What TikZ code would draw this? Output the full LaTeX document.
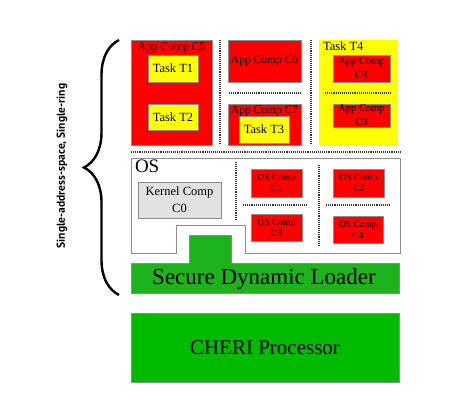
\documentclass[tikz,border=0pt]{standalone}
\usepackage{fontspec}
\setmainfont{Liberation Serif}
\newfontfamily\bracefont{PT Sans}
\usetikzlibrary{decorations.pathreplacing}
\definecolor{compRed}{HTML}{FF0000}
\definecolor{taskYellow}{HTML}{FFFF00}
\definecolor{cpuGreen}{HTML}{00BB00}
\definecolor{loaderGreen}{HTML}{1DB31D}
\definecolor{kernelGray}{HTML}{E2E2E2}
\definecolor{boxLine}{HTML}{8C8C8C}
\definecolor{sepLine}{HTML}{333333}
\tikzset{
  cherifig/.style={
    x=1pt, y=-1pt,
    every node/.append style={inner sep=0pt, outer sep=0pt},
  },
  block/.style={
    draw=boxLine, line width=0.6pt, anchor=north west, align=center,
  },
  appbox/.style={block, fill=compRed, font=\fontsize{11.5}{14}\selectfont},
  taskbox/.style={block, fill=taskYellow, font=\fontsize{12.5}{14}\selectfont},
  osbox/.style={block, fill=compRed, font=\fontsize{9.5}{11}\selectfont},
  kernelbox/.style={block, fill=kernelGray, font=\fontsize{12.5}{17}\selectfont},
  toplabel/.style={anchor=north, font=\fontsize{11.5}{14}\selectfont},
  % gepunktete Trennlinien zwischen den Komponenten
  sep/.style={draw=sepLine, line width=1.1pt, densely dotted},
  brace/.style={draw=black, line width=2.4pt,
    decorate, decoration={brace, amplitude=35pt}},
}
\begin{document}
\begin{tikzpicture}[cherifig]
  \useasboundingbox (0,0) rectangle (474,417);
  % Anwendungsebene
  \node[appbox, minimum width=81, minimum height=105] (CompC5) at (131,40) {};
  \node[toplabel] (CompC5Label) at ([yshift=-3pt]CompC5.north) {App Comp C5};
  \node[taskbox, minimum width=50, minimum height=27] (TaskT1) at (148,55) {Task T1};
  \node[taskbox, minimum width=50, minimum height=26] (TaskT2) at (148,104) {Task T2};
  \node[appbox, minimum width=73, minimum height=42] (CompC6) at (228,40) {App Comp C6};
  \node[appbox, minimum width=73, minimum height=41] (CompC7) at (228,104) {};
  \node[toplabel] (CompC7Label) at ([yshift=-1.5pt]CompC7.north) {App Comp C7};
  \node[taskbox, minimum width=50, minimum height=27] (TaskT3) at (239,116) {Task T3};
  \node[block, draw=none, fill=taskYellow, minimum width=79, minimum height=105] (TaskT4) at (319,40) {};
  \node[anchor=north west, font=\fontsize{12.5}{14}\selectfont] (TaskT4Label) at (323,42) {Task T4};
  \node[appbox, font=\fontsize{10.5}{14}\selectfont, minimum width=57, minimum height=27] (CompC8) at (333,55) {App Comp\\C8};
  \node[appbox, font=\fontsize{10.5}{14}\selectfont, minimum width=57, minimum height=23] (CompC9) at (333,104) {App Comp\\C9};
  \coordinate (AppSepA1) at (220,40);  \coordinate (AppSepA2) at (220,145);
  \coordinate (AppSepB1) at (311,40);  \coordinate (AppSepB2) at (311,145);
  \coordinate (AppSepC1) at (229,93);  \coordinate (AppSepC2) at (301,93);
  \coordinate (AppSepD1) at (325,93);  \coordinate (AppSepD2) at (391,93);
  \coordinate (LayerSep1) at (131,152); \coordinate (LayerSep2) at (400,152);
  \draw[sep] (AppSepA1) -- (AppSepA2);
  \draw[sep] (AppSepB1) -- (AppSepB2);
  \draw[sep] (AppSepC1) -- (AppSepC2);
  \draw[sep] (AppSepD1) -- (AppSepD2);
  \draw[sep] (LayerSep1) -- (LayerSep2);
  % Betriebssystem
  \draw[draw=boxLine, line width=0.9pt, fill=white]
    (131,158) -- (400,158) -- (400,253) -- (245,253) -- (245,225)
    -- (176,225) -- (176,253) -- (131,253) -- cycle;
  \node[anchor=base west, font=\fontsize{19}{22}\selectfont] (OSLabel) at (135,172) {OS};
  \node[kernelbox, minimum width=83, minimum height=36] (KernelC0) at (138,182) {Kernel Comp\\C0};
  \node[osbox, minimum width=51, minimum height=28] (OSCompC1) at (251,169) {OS Comp\\C1};
  \node[osbox, minimum width=51, minimum height=28] (OSCompC2) at (333,169) {OS Comp\\C2};
  \node[osbox, minimum width=51, minimum height=27] (OSCompC3) at (251,214) {OS Comp\\C3};
  \node[osbox, minimum width=50, minimum height=27] (OSCompC4) at (333,216) {OS Comp\\C4};
  \coordinate (OSSepA1) at (236,162); \coordinate (OSSepA2) at (236,220);
  \coordinate (OSSepB1) at (319,165); \coordinate (OSSepB2) at (319,245);
  \coordinate (OSSepC1) at (243,205); \coordinate (OSSepC2) at (308,205);
  \coordinate (OSSepD1) at (326,205); \coordinate (OSSepD2) at (390,205);
  \draw[sep] (OSSepA1) -- (OSSepA2);
  \draw[sep] (OSSepB1) -- (OSSepB2);
  \draw[sep] (OSSepC1) -- (OSSepC2);
  \draw[sep] (OSSepD1) -- (OSSepD2);
  % Lader und Hardware
  \draw[draw=boxLine, line width=0.6pt, fill=loaderGreen]
    (131,263) -- (189,263) -- (189,235) -- (231,235) -- (231,263)
    -- (399,263) -- (399,293) -- (131,293) -- cycle;
  \node[font=\fontsize{23}{26}\selectfont] (Loader) at (264,279) {Secure Dynamic Loader};
  \node[block, fill=cpuGreen, minimum width=268, minimum height=69,
    font=\fontsize{21}{24}\selectfont] (CheriCPU) at (131,313) {CHERI Processor};
  % Klammer fuer den gemeinsamen Adressraum
  \coordinate (BraceLow) at (119,295);
  \coordinate (BraceHigh) at (119,40);
  \draw[brace] (BraceLow) -- (BraceHigh);
  \node[rotate=90, font=\bracefont\bfseries\fontsize{11.5}{13}\selectfont] (ScopeLabel) at (62,166)
    {Single-address-space, Single-ring};
\end{tikzpicture}
\end{document}
